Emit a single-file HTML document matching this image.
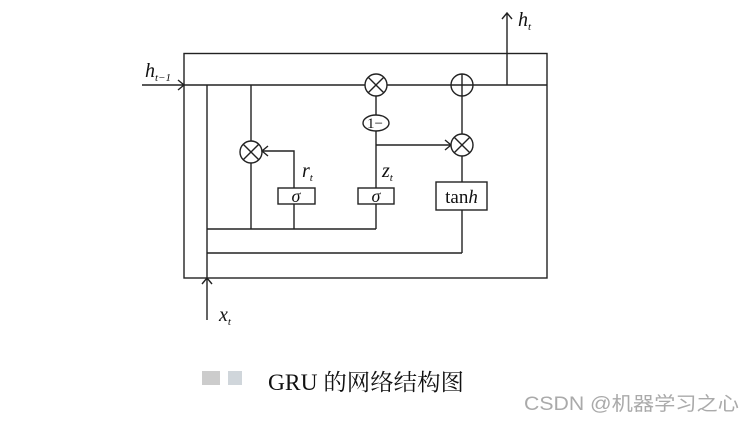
<!DOCTYPE html>
<html><head><meta charset="utf-8"><style>
html,body{margin:0;padding:0;background:#fff;}
svg{display:block;}
</style></head><body>
<svg width="754" height="421" viewBox="0 0 754 421" xmlns="http://www.w3.org/2000/svg">
<rect width="754" height="421" fill="#fff"/>
<g stroke="#222" stroke-width="1.4" fill="none">
<rect x="184" y="53.5" width="363" height="224.5"/>
<line x1="142" y1="85" x2="547" y2="85"/>
<polyline points="178,80 184,85 178,90"/>
<line x1="207" y1="85" x2="207" y2="320"/>
<polyline points="202,284 207,278 212,284"/>
<line x1="507" y1="85" x2="507" y2="13"/>
<polyline points="502,19 507,13 512,19"/>
<circle cx="376" cy="85" r="11" fill="#fff"/>
<line x1="368.2" y1="77.2" x2="383.8" y2="92.8"/><line x1="383.8" y1="77.2" x2="368.2" y2="92.8"/>
<circle cx="462" cy="85" r="11" fill="#fff"/>
<line x1="462" y1="74" x2="462" y2="96"/><line x1="451" y1="85" x2="473" y2="85"/>
<line x1="376" y1="96" x2="376" y2="115"/>
<ellipse cx="376" cy="123" rx="13" ry="8" fill="#fff"/>
<line x1="376" y1="131" x2="376" y2="188"/>
<line x1="376" y1="145" x2="451" y2="145"/>
<polyline points="445,140 451,145 445,150"/>
<line x1="462" y1="96" x2="462" y2="134"/>
<circle cx="462" cy="145" r="11" fill="#fff"/>
<line x1="454.2" y1="137.2" x2="469.8" y2="152.8"/><line x1="469.8" y1="137.2" x2="454.2" y2="152.8"/>
<line x1="462" y1="156" x2="462" y2="182"/>
<rect x="436" y="182" width="51" height="28" fill="#fff"/>
<line x1="462" y1="210" x2="462" y2="253"/>
<line x1="207" y1="253" x2="462" y2="253"/>
<line x1="251" y1="85" x2="251" y2="141"/>
<circle cx="251" cy="152" r="11" fill="#fff"/>
<line x1="243.2" y1="144.2" x2="258.8" y2="159.8"/><line x1="258.8" y1="144.2" x2="243.2" y2="159.8"/>
<line x1="251" y1="163" x2="251" y2="229"/>
<polyline points="294,188 294,151 262,151"/>
<polyline points="268,146 262,151 268,156"/>
<rect x="278" y="188" width="37" height="16" fill="#fff"/>
<line x1="294" y1="204" x2="294" y2="229"/>
<rect x="358" y="188" width="36" height="16" fill="#fff"/>
<line x1="376" y1="204" x2="376" y2="229"/>
<line x1="207" y1="229" x2="376" y2="229"/>
</g>
<g font-family="Liberation Serif, serif" fill="#111">
<text x="296" y="202" font-size="18" font-style="italic" text-anchor="middle">σ</text>
<text x="376" y="202" font-size="18" font-style="italic" text-anchor="middle">σ</text>
<text x="461.5" y="203" font-size="19" text-anchor="middle">tan<tspan font-style="italic">h</tspan></text>
<text x="367" y="128" font-size="15">1−</text>
<text x="518" y="26" font-size="20" font-style="italic">h<tspan font-size="11" dy="4">t</tspan></text>
<text x="145" y="77" font-size="20" font-style="italic">h<tspan font-size="11" dy="4">t−1</tspan></text>
<text x="302" y="177" font-size="20" font-style="italic">r<tspan font-size="11" dy="4">t</tspan></text>
<text x="382" y="177" font-size="20" font-style="italic">z<tspan font-size="11" dy="4">t</tspan></text>
<text x="219" y="321" font-size="20" font-style="italic">x<tspan font-size="11" dy="4">t</tspan></text>
</g>
<rect x="202" y="371" width="18" height="14" fill="#aaa" opacity="0.6"/>
<rect x="228" y="371" width="14" height="14" fill="#c4ccd2" opacity="0.8"/>
<text x="268" y="390" font-family="Liberation Serif, 'Noto Serif CJK SC', serif" font-size="23" fill="#111" textLength="196" lengthAdjust="spacingAndGlyphs">GRU 的网络结构图</text>
<text x="524" y="410" font-family="Liberation Sans, 'Noto Sans CJK SC', sans-serif" font-size="19" fill="#aaa" textLength="215" lengthAdjust="spacingAndGlyphs">CSDN @机器学习之心</text>
</svg>
</body></html>
